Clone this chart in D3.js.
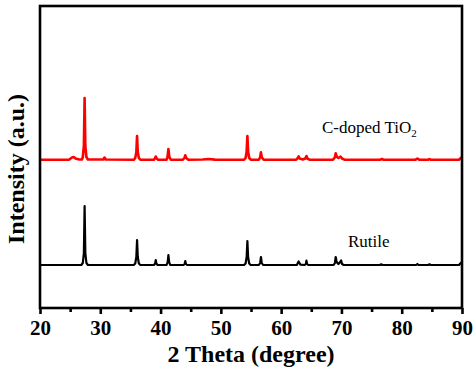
<!DOCTYPE html>
<html>
<head>
<meta charset="UTF-8">
<title>XRD patterns</title>
<script src="https://cdn.jsdelivr.net/npm/d3@7"></script>
<style>
  body { margin: 0; background: #fff; }
  text { font-family: "Liberation Serif", "Times New Roman", serif; }
</style>
</head>
<body>
<script>
// 2 theta (deg) / intensity (a.u.), baseline ~0
var rutile = [
  [20,0],[26.85,0],[27.1,2],[27.28,12],[27.4,59],[27.52,12],[27.7,2],[27.95,0],
  [35.55,0],[35.8,1.5],[35.98,8],[36.1,25],[36.22,8],[36.4,1.5],[36.65,0],
  [38.9,0],[39.1,1.5],[39.2,5],[39.3,1.5],[39.5,0],
  [41.0,0],[41.18,3],[41.3,10],[41.42,3],[41.6,0],
  [43.8,0],[44.0,1],[44.1,4],[44.2,1],[44.4,0],
  [53.85,0],[54.1,1.5],[54.28,8],[54.4,24],[54.52,8],[54.7,1.5],[54.95,0],
  [56.3,0],[56.52,2],[56.65,8],[56.78,2],[57.0,0],
  [62.6,0],[62.9,3.5],[63.2,0.3],[63.9,0],[64.1,1],[64.2,4.3],[64.3,1],[64.5,0],
  [68.7,0],[68.92,2],[69.05,8],[69.2,3],[69.5,1],[69.8,3],[69.95,4.5],[70.1,1],[70.4,0],
  [76.4,0],[76.6,0.7],[76.8,0],[82.4,0],[82.6,1],[82.8,0],[84.4,0],[84.6,0.7],[84.8,0],
  [89.5,0],[89.8,2],[90,3]
];
var cdoped = [
  [20,0.3],[24.8,0.3],[25.3,2.5],[25.6,3],[25.9,1.5],[26.5,0.5],[26.95,0.5],[27.1,3],[27.28,14],[27.4,62],[27.52,14],[27.7,3],[27.95,0.5],
  [30.5,0.5],[30.7,2.5],[30.9,0.5],
  [35.55,0.2],[35.8,2],[35.98,8],[36.1,24],[36.22,8],[36.4,2],[36.65,0.3],
  [38.9,0.3],[39.1,2],[39.2,3.5],[39.35,1.5],[39.6,0.3],
  [41.0,0.3],[41.15,3],[41.3,11],[41.45,3],[41.7,0.3],
  [43.7,0.3],[43.95,2],[44.1,4.7],[44.25,2],[44.6,0.3],
  [47,0.5],[48,1],[49,0.4],
  [53.85,0.3],[54.1,2],[54.27,8],[54.4,24],[54.53,8],[54.7,2],[55,0.3],
  [56.3,0.3],[56.5,2.5],[56.65,7.7],[56.8,2.5],[57.1,0.3],
  [62.5,0.3],[62.75,2],[62.9,3.7],[63.05,1.5],[63.6,0.5],[64.0,1.5],[64.2,4],[64.35,1.5],[64.7,0.3],
  [68.6,0.3],[68.9,2.5],[69.05,6.7],[69.25,3],[69.5,2],[69.85,3.5],[70.1,1.5],[70.5,0.3],
  [76.4,0.3],[76.7,1],[77,0.3],[82.3,0.3],[82.6,1.5],[82.9,0.3],[84.4,0.3],[84.6,1],[84.8,0.3],
  [89.5,0.3],[89.8,2],[90,2.5]
];
var seriesNames = ["Rutile", "C-doped TiO2"];
var seriesOffsets = [43, 148];   // vertical stacking of the patterns
var majorTicks = [20, 30, 40, 50, 60, 70, 80, 90];
var minorTicks = [25, 35, 45, 55, 65, 75, 85];

var W = 474, H = 372;
var mLeft = 40, mRight = 462, mTop = 6, mBottom = 308;

var svg = d3.select("body").append("svg")
    .attr("width", W)
    .attr("height", H);

var x = d3.scaleLinear().domain([20, 90]).range([mLeft, mRight]);
var y = d3.scaleLinear().domain([0, 302]).range([mBottom, mTop]);

function drawPattern(data, off, color, sw) {
    var line = d3.line()
        .x(function(d){ return x(d[0]); })
        .y(function(d){ return y(d[1] + off); });
    svg.append("path")
        .datum(data)
        .attr("d", line)
        .attr("fill", "none")
        .attr("stroke", color)
        .attr("stroke-width", sw)
        .attr("stroke-linejoin", "round");
}
drawPattern(rutile, seriesOffsets[0], "#000", 2.2);
drawPattern(cdoped, seriesOffsets[1], "#f00", 2.6);

// frame
svg.append("rect")
    .attr("x", mLeft).attr("y", mTop)
    .attr("width", mRight - mLeft).attr("height", mBottom - mTop)
    .attr("fill", "none").attr("stroke", "#000").attr("stroke-width", 2.6);

// axis
var gx = svg.append("g").attr("transform", "translate(0," + mBottom + ")")
    .call(d3.axisBottom(x).tickValues(majorTicks).tickSize(6).tickSizeOuter(0).tickPadding(6));
gx.select(".domain").remove();
gx.selectAll("line").attr("stroke-width", 2.6);
gx.selectAll("text")
    .attr("font-family", "Liberation Serif, serif")
    .attr("font-size", 21).attr("font-weight", "bold").attr("fill", "#000");

var gm = svg.append("g").attr("transform", "translate(0," + mBottom + ")")
    .call(d3.axisBottom(x).tickValues(minorTicks).tickSize(4).tickSizeOuter(0).tickFormat(""));
gm.select(".domain").remove();
gm.selectAll("line").attr("stroke-width", 2.6);

// titles
svg.append("text")
    .attr("x", 251).attr("y", 362)
    .attr("text-anchor", "middle")
    .attr("font-size", 24).attr("font-weight", "bold")
    .text("2 Theta (degree)");

svg.append("text")
    .attr("transform", "translate(24,169) rotate(-90)")
    .attr("text-anchor", "middle")
    .attr("font-size", 24).attr("font-weight", "bold")
    .text("Intensity (a.u.)");

// series labels
var lab = svg.append("text")
    .attr("x", 322).attr("y", 133)
    .attr("font-size", 17);
lab.append("tspan").text("C-doped TiO");
lab.append("tspan").attr("font-size", 11).attr("dy", 4).text("2");

svg.append("text")
    .attr("x", 348).attr("y", 247)
    .attr("font-size", 17)
    .text(seriesNames[0]);
</script>
</body>
</html>
